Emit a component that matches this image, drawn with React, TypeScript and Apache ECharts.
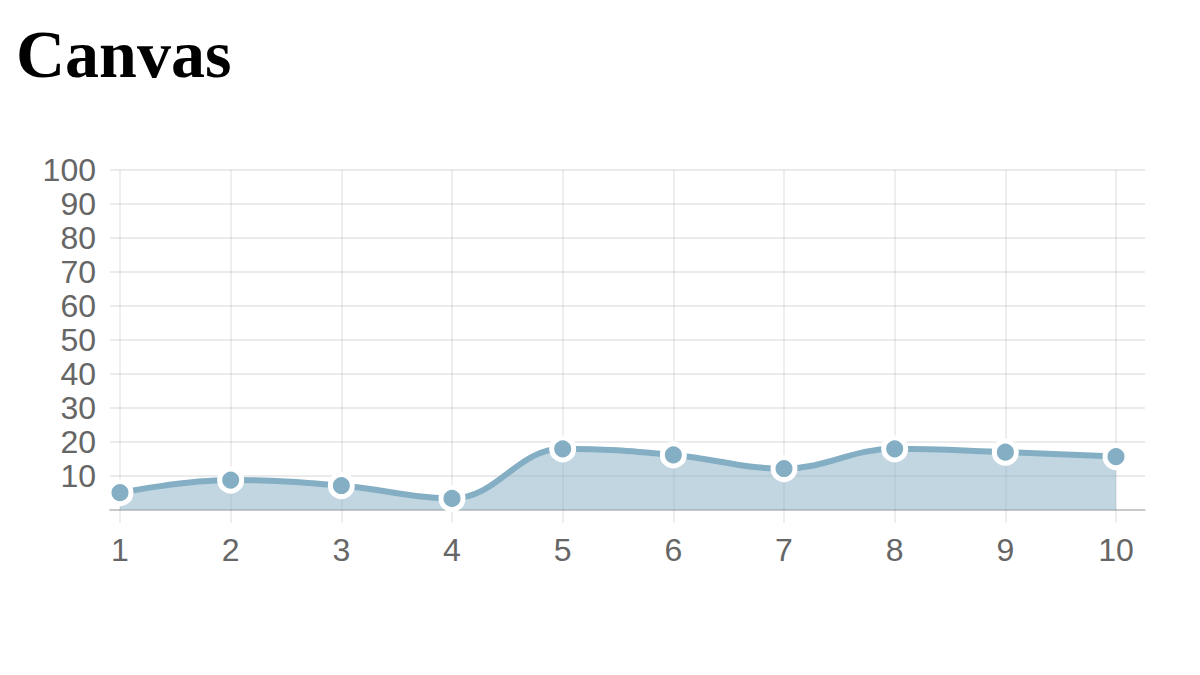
import React, { useEffect, useRef } from 'react';
import * as echarts from 'echarts';

const categories = ['1', '2', '3', '4', '5', '6', '7', '8', '9', '10'];
const values = [5.1, 8.8, 7.2, 3.4, 18, 16.2, 12.2, 18, 17, 15.7];

const gridColor = 'rgba(0,0,0,0.08)';
const vGridColor = 'rgba(0,0,0,0.065)';
const lineColor = 'rgb(132,174,195)';
const labelFont = { fontFamily: '"Liberation Sans", Arial, sans-serif', fontSize: 32, color: '#666' };

function App() {
  const chartRef = useRef<HTMLDivElement>(null);

  useEffect(() => {
    const chart = echarts.init(chartRef.current, null, { renderer: 'svg' });

    const options = {
      animation: false,
      grid: [
        // 数据区
        { left: 120, right: 84, top: 170, bottom: 165 },
        // 横向网格线 + y 轴标签
        { left: 110, right: 55, top: 170, bottom: 165 },
      ],
      xAxis: [
        {
          type: 'category',
          gridIndex: 0,
          data: categories,
          boundaryGap: false,
          axisLine: { show: false },
          axisTick: { show: true, length: 13, lineStyle: { color: vGridColor, width: 2 } },
          splitLine: { show: true, lineStyle: { color: vGridColor, width: 2 } },
          axisLabel: { ...labelFont, margin: 24 },
        },
        {
          type: 'value',
          gridIndex: 1,
          min: 0,
          max: 1,
          axisLine: { show: true, lineStyle: { color: 'rgba(0,0,0,0.14)', width: 2 } },
          axisTick: { show: false },
          axisLabel: { show: false },
          splitLine: { show: false },
        },
      ],
      yAxis: [
        { type: 'value', gridIndex: 0, min: 0, max: 100, show: false },
        {
          type: 'value',
          gridIndex: 1,
          min: 0,
          max: 100,
          interval: 10,
          axisLine: { show: false },
          axisTick: { show: false },
          splitLine: { show: true, lineStyle: { color: gridColor, width: 2 } },
          axisLabel: {
            ...labelFont,
            margin: 14,
            formatter: (v: number) => (v === 0 ? '' : String(v)),
          },
        },
      ],
      series: [
        {
          type: 'line',
          xAxisIndex: 0,
          yAxisIndex: 0,
          data: values,
          smooth: 0.4,
          symbol: 'circle',
          symbolSize: 22,
          lineStyle: { color: lineColor, width: 6 },
          itemStyle: { color: lineColor, borderColor: '#fff', borderWidth: 5 },
          areaStyle: { color: lineColor, opacity: 0.5 },
        },
      ],
    };

    chart.setOption(options);

    return () => {
      chart.dispose();
    };
  }, []);

  return (
    <div style={{ position: 'absolute', left: 0, top: 0, width: 1200, height: 675 }}>
      <div ref={chartRef} style={{ position: 'absolute', left: 0, top: 0, width: 1200, height: 675 }}></div>
      <h1
        style={{
          position: 'absolute',
          left: 16,
          top: 20,
          margin: 0,
          fontFamily: '"Liberation Serif", "Times New Roman", serif',
          fontWeight: 'bold',
          fontSize: 68,
          lineHeight: '68px',
        }}
      >
        Canvas
      </h1>
    </div>
  );
}

export default App;
